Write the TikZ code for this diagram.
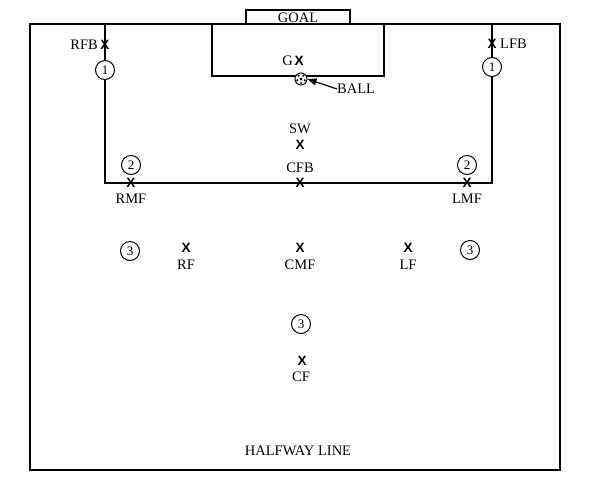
\documentclass[tikz,border=0pt]{standalone}
\usepackage{fontspec}
\setmainfont{Liberation Serif}
\newfontfamily\xfont{Liberation Sans}
\usetikzlibrary{arrows.meta,calc}
\begin{document}
\begin{tikzpicture}[x=1pt,y=-1pt,
  field/.style={line width=1.2pt},
  lbl/.style={font=\fontsize{14.5}{14.5}\selectfont, inner sep=0pt},
  xmark/.style={font=\xfont\fontsize{13.5}{13.5}\selectfont\bfseries, inner sep=0pt},
  num/.style={circle, draw, line width=1pt, fill=white, minimum size=19pt, inner sep=0pt, font=\fontsize{13}{13}\selectfont}]
\useasboundingbox (0,0) rectangle (594,488);
% field
\draw[field] (30,24) rectangle (560,470);
\draw[field] (246,24) |- (350,10) -- (350,24);
\draw[field] (212,24) |- (384,76) -- (384,24);
\draw[field] (105,24) |- (492,183) -- (492,24);
\node[lbl] (goal) at (298,18) {GOAL};
% defenders
\node[xmark] (rfb) at (105,45) {X};
\node[lbl, anchor=east] (rfbl) at (98,45) {RFB};
\node[num] (c1l) at (105,70) {1};
\node[xmark] (lfb) at (492,44) {X};
\node[lbl, anchor=west] (lfbl) at (500,44) {LFB};
\node[num] (c1r) at (492,67) {1};
% goalkeeper and ball
\node[xmark] (g) at (299,61) {X};
\node[lbl, anchor=east] (gl) at (293,61) {G};
\node[circle, draw, line width=1pt, fill=white, minimum size=12pt, inner sep=0pt] (ball) at (301,79) {};
\fill (ball.center) circle (1.7);
\foreach \a in {0,72,...,288} \fill ($(ball.center)+(\a+90:3.9)$) circle (1.1);
\node[lbl, anchor=west] (balll) at (337,89) {BALL};
\draw[line width=1.2pt, -{Triangle[length=9pt,width=7pt]}] (balll.west) -- (ball.east);
% sweeper and centre back
\node[lbl] (swl) at (300,129) {SW};
\node[xmark] (sw) at (300,145) {X};
\node[lbl] (cfbl) at (300,168) {CFB};
\node[xmark] (cfb) at (300,183) {X};
% midfield line
\node[num] (c2l) at (131,165) {2};
\node[xmark] (rmf) at (131,183) {X};
\node[lbl] (rmfl) at (131,199) {RMF};
\node[num] (c2r) at (467,165) {2};
\node[xmark] (lmf) at (467,183) {X};
\node[lbl] (lmfl) at (467,199) {LMF};
% forwards row
\node[num] (c3l) at (130,251) {3};
\node[xmark] (rf) at (186,248) {X};
\node[lbl] (rfl) at (186,265) {RF};
\node[xmark] (cmf) at (300,248) {X};
\node[lbl] (cmfl) at (300,265) {CMF};
\node[xmark] (lf) at (408,248) {X};
\node[lbl] (lfl) at (408,265) {LF};
\node[num] (c3r) at (470,250) {3};
% centre forward
\node[num] (c3m) at (301,324) {3};
\node[xmark] (cf) at (302,361) {X};
\node[lbl] (cfl) at (301,377) {CF};
\node[lbl] (half) at (298,451) {HALFWAY LINE};
\end{tikzpicture}
\end{document}
